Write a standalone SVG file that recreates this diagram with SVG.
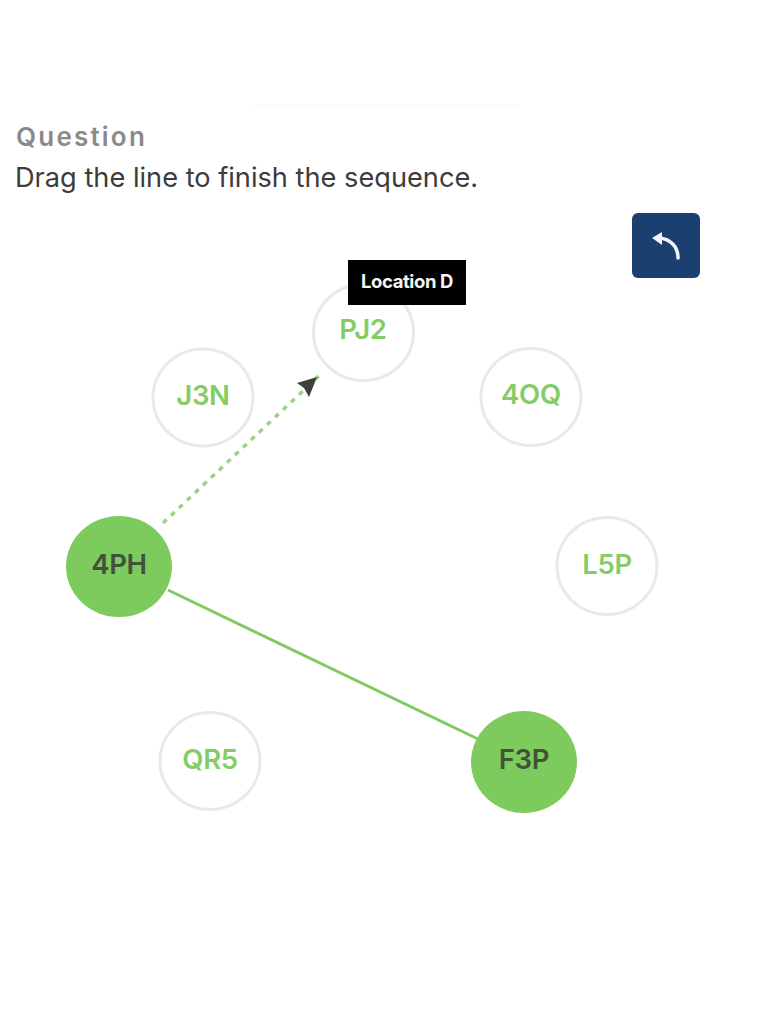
<svg xmlns="http://www.w3.org/2000/svg" width="768" height="1024" viewBox="0 0 768 1024">
<style>
text{font-family:"Inter","Liberation Sans",sans-serif}
.o{fill:#fff;stroke:#e9e9e9;stroke-width:3}
.f{fill:#7dcb5d}
.l{font-size:27.5px;font-weight:600;text-anchor:middle;fill:#84cd66;letter-spacing:-0.3px}
.d{font-size:27.5px;font-weight:600;text-anchor:middle;fill:#42513c;letter-spacing:-0.3px}
</style>
<rect width="768" height="1024" fill="#fff"/>
<line x1="250" y1="105" x2="520" y2="105" stroke="#fffdf3" stroke-width="3"/>
<text x="16" y="146" font-size="26" font-weight="600" fill="#8a8a8a" letter-spacing="2.2">Question</text>
<text x="15" y="187" font-size="27.2" fill="#3c3c3c">Drag the line to finish the sequence.</text>
<g id="undo">
<rect x="632" y="213" width="68" height="65" rx="6" fill="#1a3f70"/>
<path d="M678 258C678 247 671 239 659 238" fill="none" stroke="#f2f4f7" stroke-width="3.500" stroke-linecap="round"/>
<path d="M652 238L662 232L662 245Z" fill="#f2f4f7"/>
</g>
<g id="connectors">
<line x1="163" y1="523" x2="323" y2="372" stroke="#9ad384" stroke-width="3.500" stroke-dasharray="5 6"/>
<path d="M297 383L317 377L309 397L304 388Z" fill="#3d423c"/>
<line x1="168" y1="590" x2="478" y2="739" stroke="#7dcb5d" stroke-width="3"/>
</g>
<g id="node-PJ2"><ellipse class="o" cx="363.500" cy="332.500" rx="50" ry="48"/><text class="l" x="363" y="339">PJ2</text></g>
<g id="label-location-d"><rect x="348" y="260" width="118" height="45" fill="#000"/><text x="407" y="288" font-size="18.500" font-weight="700" fill="#f4f4f4" text-anchor="middle" letter-spacing="-0.4">Location D</text></g>
<g id="node-J3N"><ellipse class="o" cx="203" cy="397.500" rx="50" ry="48.500"/><text class="l" x="203" y="405">J3N</text></g>
<g id="node-4OQ"><ellipse class="o" cx="531" cy="397" rx="50" ry="48.500"/><text class="l" x="531" y="404">4OQ</text></g>
<g id="node-L5P"><ellipse class="o" cx="607" cy="566" rx="50" ry="48.500"/><text class="l" x="607" y="574">L5P</text></g>
<g id="node-QR5"><ellipse class="o" cx="210" cy="761" rx="50" ry="48.500"/><text class="l" x="210" y="769">QR5</text></g>
<g id="node-4PH"><ellipse class="f" cx="119" cy="566.500" rx="53" ry="50.500"/><text class="d" x="119" y="574">4PH</text></g>
<g id="node-F3P"><ellipse class="f" cx="524" cy="762" rx="53" ry="51"/><text class="d" x="524" y="769">F3P</text></g>
</svg>
